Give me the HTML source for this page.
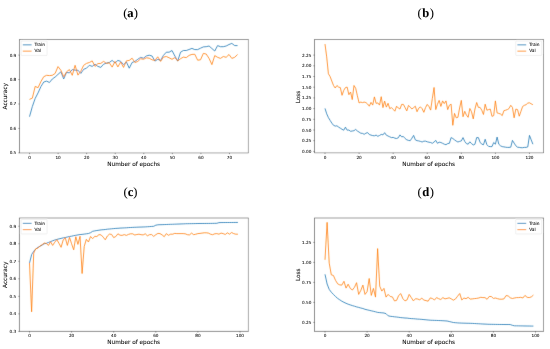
<!DOCTYPE html>
<html lang="en">
<head>
<meta charset="utf-8">
<title>Training curves</title>
<style>
html,body{margin:0;padding:0;background:#fff;}
body{width:550px;height:349px;overflow:hidden;}
svg{display:block;}
svg text{font-family:"DejaVu Sans","Liberation Sans",sans-serif;fill:#111;stroke:#111;stroke-width:0.09px;text-rendering:geometricPrecision;}
svg text.sm{fill:#111;stroke:#111;stroke-width:0.07px;}
svg text.ttl{font-family:"Liberation Serif","DejaVu Serif",serif;fill:#000;stroke-width:0.06px;}
</style>
</head>
<body>
<svg width="550" height="349" viewBox="0 0 550 349">
<defs><filter id="soft" x="0" y="0" width="550" height="349" filterUnits="userSpaceOnUse"><feConvolveMatrix order="3" kernelMatrix="0.0052 0.0619 0.0052 0.0619 0.7314 0.0619 0.0052 0.0619 0.0052" divisor="1" edgeMode="duplicate" preserveAlpha="false"/></filter></defs>
<rect x="0" y="0" width="550" height="349" fill="#fff"/>
<g filter="url(#soft)">
<line x1="19.5" y1="39.30" x2="19.5" y2="153.12" stroke="#000" stroke-width="0.44"/>
<line x1="248.4" y1="39.30" x2="248.4" y2="153.12" stroke="#000" stroke-width="0.34"/>
<line x1="19.5" y1="39.5" x2="248.4" y2="39.5" stroke="#000" stroke-width="0.4"/>
<line x1="19.5" y1="152.95" x2="248.4" y2="152.95" stroke="#000" stroke-width="0.34"/>
<line x1="29.55" y1="152.95" x2="29.55" y2="154.15" stroke="#000" stroke-width="0.4"/>
<line x1="58.11" y1="152.95" x2="58.11" y2="154.15" stroke="#000" stroke-width="0.4"/>
<line x1="86.67" y1="152.95" x2="86.67" y2="154.15" stroke="#000" stroke-width="0.4"/>
<line x1="115.23" y1="152.95" x2="115.23" y2="154.15" stroke="#000" stroke-width="0.4"/>
<line x1="143.79" y1="152.95" x2="143.79" y2="154.15" stroke="#000" stroke-width="0.4"/>
<line x1="172.35" y1="152.95" x2="172.35" y2="154.15" stroke="#000" stroke-width="0.4"/>
<line x1="200.91" y1="152.95" x2="200.91" y2="154.15" stroke="#000" stroke-width="0.4"/>
<line x1="229.47" y1="152.95" x2="229.47" y2="154.15" stroke="#000" stroke-width="0.4"/>
<line x1="18.30" y1="152.85" x2="19.5" y2="152.85" stroke="#000" stroke-width="0.4"/>
<line x1="18.30" y1="128.41" x2="19.5" y2="128.41" stroke="#000" stroke-width="0.4"/>
<line x1="18.30" y1="103.97" x2="19.5" y2="103.97" stroke="#000" stroke-width="0.4"/>
<line x1="18.30" y1="79.53" x2="19.5" y2="79.53" stroke="#000" stroke-width="0.4"/>
<line x1="18.30" y1="55.09" x2="19.5" y2="55.09" stroke="#000" stroke-width="0.4"/>
<polyline points="29.50,116.70 32.35,106.50 35.20,98.40 38.05,92.90 40.90,86.60 43.75,82.00 46.60,81.10 49.45,82.50 52.30,79.00 55.15,77.00 58.00,74.40 60.85,71.80 63.70,78.90 66.55,72.40 69.40,72.90 72.25,69.60 75.10,70.20 77.95,70.20 80.80,73.40 83.65,69.30 86.50,68.20 89.35,65.30 92.20,66.40 95.05,64.20 97.90,66.40 100.75,67.40 103.60,64.20 106.45,63.10 109.30,62.50 112.15,60.40 115.00,63.10 117.85,60.40 120.70,61.40 123.55,64.70 126.40,62.00 129.25,68.20 132.10,62.50 134.95,61.40 137.80,59.30 140.65,57.40 143.50,58.20 146.35,56.00 149.20,55.20 152.05,56.00 154.90,61.10 157.75,59.30 160.60,60.40 163.45,55.40 166.30,52.20 169.15,52.20 172.00,50.50 174.85,56.00 177.70,61.10 180.55,52.20 183.40,50.50 186.25,50.50 189.10,49.50 191.95,48.40 194.80,49.60 197.65,49.60 200.50,48.20 203.35,46.90 206.20,46.70 209.05,46.00 211.90,48.50 214.75,51.00 217.60,45.60 220.45,46.70 223.30,46.70 226.15,46.00 229.00,44.50 231.85,43.40 234.70,45.60 237.55,45.60" fill="none" stroke="#1f77b4" stroke-width="0.8" stroke-linejoin="round" stroke-linecap="butt" opacity="1"/>
<polyline points="29.50,99.40 32.35,98.10 35.20,86.40 38.05,87.70 40.90,81.60 43.75,76.70 46.60,75.30 49.45,75.60 52.30,75.30 55.15,73.40 58.00,66.60 60.85,70.20 63.70,76.70 66.55,71.80 69.40,69.60 72.25,75.30 75.10,65.30 77.95,75.10 80.80,71.30 83.65,65.30 86.50,63.40 89.35,62.50 92.20,60.90 95.05,66.40 97.90,63.60 100.75,63.40 103.60,61.40 106.45,63.40 109.30,62.80 112.15,67.10 115.00,61.40 117.85,66.90 120.70,62.00 123.55,67.40 126.40,60.90 129.25,60.40 132.10,58.20 134.95,62.50 137.80,61.40 140.65,58.70 143.50,59.30 146.35,57.80 149.20,58.20 152.05,59.80 154.90,60.40 157.75,56.80 160.60,61.40 163.45,57.10 166.30,56.50 169.15,57.80 172.00,59.30 174.85,57.60 177.70,60.90 180.55,58.70 183.40,57.10 186.25,57.60 189.10,55.40 191.95,54.40 194.80,54.30 197.65,60.20 200.50,59.80 203.35,53.40 206.20,54.00 209.05,58.40 211.90,64.60 214.75,55.60 217.60,57.30 220.45,58.40 223.30,56.50 226.15,57.30 229.00,54.50 231.85,58.40 234.70,57.30 237.55,54.50" fill="none" stroke="#ff7f0e" stroke-width="0.8" stroke-linejoin="round" stroke-linecap="butt" opacity="1"/>
<rect x="21.1" y="41.05" width="26" height="14.4" rx="0.6" fill="#fff" fill-opacity="0.8" stroke="#ccc" stroke-width="0.3"/>
<line x1="22.80" y1="44.85" x2="31.60" y2="44.85" stroke="#1f77b4" stroke-width="0.8"/>
<line x1="22.80" y1="51.15" x2="31.60" y2="51.15" stroke="#ff7f0e" stroke-width="0.8"/>
<line x1="314.5" y1="39.30" x2="314.5" y2="152.97" stroke="#000" stroke-width="0.44"/>
<line x1="543.5" y1="39.30" x2="543.5" y2="152.97" stroke="#000" stroke-width="0.38"/>
<line x1="314.5" y1="39.5" x2="543.5" y2="39.5" stroke="#000" stroke-width="0.4"/>
<line x1="314.5" y1="152.8" x2="543.5" y2="152.8" stroke="#000" stroke-width="0.34"/>
<line x1="325.00" y1="152.8" x2="325.00" y2="154.00" stroke="#000" stroke-width="0.4"/>
<line x1="359.08" y1="152.8" x2="359.08" y2="154.00" stroke="#000" stroke-width="0.4"/>
<line x1="393.16" y1="152.8" x2="393.16" y2="154.00" stroke="#000" stroke-width="0.4"/>
<line x1="427.24" y1="152.8" x2="427.24" y2="154.00" stroke="#000" stroke-width="0.4"/>
<line x1="461.32" y1="152.8" x2="461.32" y2="154.00" stroke="#000" stroke-width="0.4"/>
<line x1="495.40" y1="152.8" x2="495.40" y2="154.00" stroke="#000" stroke-width="0.4"/>
<line x1="529.48" y1="152.8" x2="529.48" y2="154.00" stroke="#000" stroke-width="0.4"/>
<line x1="313.30" y1="151.40" x2="314.5" y2="151.40" stroke="#000" stroke-width="0.4"/>
<line x1="313.30" y1="140.70" x2="314.5" y2="140.70" stroke="#000" stroke-width="0.4"/>
<line x1="313.30" y1="130.00" x2="314.5" y2="130.00" stroke="#000" stroke-width="0.4"/>
<line x1="313.30" y1="119.30" x2="314.5" y2="119.30" stroke="#000" stroke-width="0.4"/>
<line x1="313.30" y1="108.60" x2="314.5" y2="108.60" stroke="#000" stroke-width="0.4"/>
<line x1="313.30" y1="97.90" x2="314.5" y2="97.90" stroke="#000" stroke-width="0.4"/>
<line x1="313.30" y1="87.20" x2="314.5" y2="87.20" stroke="#000" stroke-width="0.4"/>
<line x1="313.30" y1="76.50" x2="314.5" y2="76.50" stroke="#000" stroke-width="0.4"/>
<line x1="313.30" y1="65.80" x2="314.5" y2="65.80" stroke="#000" stroke-width="0.4"/>
<line x1="313.30" y1="55.10" x2="314.5" y2="55.10" stroke="#000" stroke-width="0.4"/>
<polyline points="325.00,108.40 326.70,113.80 328.41,117.60 330.11,120.40 331.82,123.10 333.52,125.30 335.22,126.10 336.93,125.80 338.63,127.10 340.34,128.20 342.04,129.30 343.74,130.20 345.45,127.20 347.15,130.20 348.86,130.00 350.56,131.30 352.26,131.00 353.97,130.70 355.67,129.40 357.38,131.00 359.08,132.10 360.78,133.20 362.49,133.40 364.19,134.30 365.90,133.20 367.60,132.60 369.30,134.50 371.01,135.10 372.71,135.60 374.42,135.80 376.12,135.10 377.82,136.30 379.53,135.50 381.23,134.40 382.94,134.90 384.64,132.70 386.34,135.20 388.05,136.00 389.75,136.80 391.46,137.60 393.16,137.40 394.86,138.20 396.57,138.50 398.27,137.80 399.98,134.90 401.68,136.80 403.38,136.50 405.09,138.50 406.79,139.80 408.50,140.40 410.20,140.70 411.90,138.20 413.61,135.40 415.31,139.80 417.02,140.70 418.72,140.90 420.42,141.40 422.13,142.00 423.83,141.20 425.54,141.10 427.24,141.80 428.94,142.20 430.65,142.50 432.35,143.30 434.06,142.00 435.76,140.40 437.46,143.30 439.17,142.20 440.87,142.50 442.58,143.30 444.28,144.20 445.98,144.70 447.69,143.60 449.39,143.30 451.10,137.60 452.80,138.50 454.50,139.80 456.21,141.10 457.91,142.00 459.62,141.40 461.32,140.90 463.02,137.60 464.73,141.40 466.43,143.60 468.14,144.20 469.84,141.80 471.54,143.60 473.25,145.00 474.95,144.20 476.66,137.60 478.36,137.60 480.06,142.20 481.77,144.20 483.47,144.70 485.18,139.30 486.88,144.70 488.58,146.40 490.29,146.60 491.99,146.60 493.70,142.50 495.40,144.20 497.10,137.10 498.81,144.20 500.51,145.80 502.22,146.60 503.92,146.90 505.62,147.20 507.33,147.40 509.03,147.40 510.74,147.20 512.44,140.40 514.14,143.10 515.85,145.80 517.55,147.20 519.26,147.40 520.96,147.70 522.66,147.70 524.37,147.40 526.07,147.40 527.78,146.90 529.48,135.40 531.18,139.80 532.89,144.20" fill="none" stroke="#1f77b4" stroke-width="0.8" stroke-linejoin="round" stroke-linecap="butt" opacity="1"/>
<polyline points="325.00,44.10 326.70,56.90 328.41,73.80 330.11,76.60 331.82,81.10 333.52,85.50 335.22,88.00 336.93,85.50 338.63,87.10 340.34,87.60 342.04,95.30 343.74,90.40 345.45,87.60 347.15,87.10 348.86,94.70 350.56,92.00 352.26,99.60 353.97,85.50 355.67,88.20 357.38,95.80 359.08,102.90 360.78,102.10 362.49,102.60 364.19,102.10 365.90,102.60 367.60,104.00 369.30,106.20 371.01,102.40 372.71,105.10 374.42,96.90 376.12,103.40 377.82,102.90 379.53,105.10 381.23,96.70 382.94,107.60 384.64,101.10 386.34,107.10 388.05,103.30 389.75,108.70 391.46,107.60 393.16,109.30 394.86,111.20 396.57,106.20 398.27,108.00 399.98,109.00 401.68,104.40 403.38,104.40 405.09,107.60 406.79,110.90 408.50,105.40 410.20,107.10 411.90,109.00 413.61,107.60 415.31,106.20 417.02,111.70 418.72,108.20 420.42,106.90 422.13,108.70 423.83,112.30 425.54,107.60 427.24,104.40 428.94,106.50 430.65,110.10 432.35,98.40 434.06,87.50 435.76,109.60 437.46,104.20 439.17,100.40 440.87,106.40 442.58,100.90 444.28,103.60 445.98,100.90 447.69,109.60 449.39,105.30 451.10,104.20 452.80,125.30 454.50,113.40 456.21,117.80 457.91,117.30 459.62,108.00 461.32,100.40 463.02,116.70 464.73,111.30 466.43,115.10 468.14,117.30 469.84,108.50 471.54,111.80 473.25,118.90 474.95,109.10 476.66,102.50 478.36,107.40 480.06,107.40 481.77,110.20 483.47,114.50 485.18,104.20 486.88,110.20 488.58,109.60 490.29,109.10 491.99,116.40 493.70,115.60 495.40,100.90 497.10,112.90 498.81,113.40 500.51,114.00 502.22,115.60 503.92,110.70 505.62,110.20 507.33,109.60 509.03,108.50 510.74,105.30 512.44,107.40 514.14,117.80 515.85,109.10 517.55,109.60 519.26,116.20 520.96,111.30 522.66,106.40 524.37,105.30 526.07,104.70 527.78,103.10 529.48,102.80 531.18,103.80 532.89,104.70" fill="none" stroke="#ff7f0e" stroke-width="0.8" stroke-linejoin="round" stroke-linecap="butt" opacity="1"/>
<rect x="515.7" y="41.05" width="26" height="14.4" rx="0.6" fill="#fff" fill-opacity="0.8" stroke="#ccc" stroke-width="0.3"/>
<line x1="517.40" y1="44.85" x2="526.20" y2="44.85" stroke="#1f77b4" stroke-width="0.8"/>
<line x1="517.40" y1="51.15" x2="526.20" y2="51.15" stroke="#ff7f0e" stroke-width="0.8"/>
<line x1="19.45" y1="217.81" x2="19.45" y2="331.62" stroke="#000" stroke-width="0.44"/>
<line x1="248.4" y1="217.81" x2="248.4" y2="331.62" stroke="#000" stroke-width="0.34"/>
<line x1="19.45" y1="218.0" x2="248.4" y2="218.0" stroke="#000" stroke-width="0.38"/>
<line x1="19.45" y1="331.4" x2="248.4" y2="331.4" stroke="#000" stroke-width="0.44"/>
<line x1="29.50" y1="331.4" x2="29.50" y2="332.60" stroke="#000" stroke-width="0.4"/>
<line x1="71.60" y1="331.4" x2="71.60" y2="332.60" stroke="#000" stroke-width="0.4"/>
<line x1="113.70" y1="331.4" x2="113.70" y2="332.60" stroke="#000" stroke-width="0.4"/>
<line x1="155.80" y1="331.4" x2="155.80" y2="332.60" stroke="#000" stroke-width="0.4"/>
<line x1="197.90" y1="331.4" x2="197.90" y2="332.60" stroke="#000" stroke-width="0.4"/>
<line x1="240.00" y1="331.4" x2="240.00" y2="332.60" stroke="#000" stroke-width="0.4"/>
<line x1="18.25" y1="331.40" x2="19.45" y2="331.40" stroke="#000" stroke-width="0.4"/>
<line x1="18.25" y1="313.87" x2="19.45" y2="313.87" stroke="#000" stroke-width="0.4"/>
<line x1="18.25" y1="296.34" x2="19.45" y2="296.34" stroke="#000" stroke-width="0.4"/>
<line x1="18.25" y1="278.81" x2="19.45" y2="278.81" stroke="#000" stroke-width="0.4"/>
<line x1="18.25" y1="261.28" x2="19.45" y2="261.28" stroke="#000" stroke-width="0.4"/>
<line x1="18.25" y1="243.75" x2="19.45" y2="243.75" stroke="#000" stroke-width="0.4"/>
<line x1="18.25" y1="226.22" x2="19.45" y2="226.22" stroke="#000" stroke-width="0.4"/>
<polyline points="29.50,263.10 31.61,254.70 33.71,251.20 35.81,249.00 37.92,247.30 40.02,246.20 42.13,245.10 44.23,243.80 46.34,243.30 48.45,242.50 50.55,241.60 52.66,240.80 54.76,240.00 56.86,239.40 58.97,238.90 61.08,238.40 63.18,237.90 65.28,237.50 67.39,237.00 69.50,236.50 71.60,236.20 73.70,235.70 75.81,235.30 77.91,234.90 80.02,234.60 82.12,234.40 84.23,234.10 86.34,233.80 88.44,233.50 90.55,232.70 92.65,231.30 94.75,230.90 96.86,230.50 98.97,230.20 101.07,229.90 103.17,229.70 105.28,229.50 107.39,229.20 109.49,229.00 111.59,228.80 113.70,228.60 115.80,228.40 117.91,228.30 120.02,228.10 122.12,228.00 124.22,227.90 126.33,227.80 128.44,227.60 130.54,227.50 132.64,227.40 134.75,227.30 136.86,227.20 138.96,227.12 141.06,227.05 143.17,226.98 145.28,226.90 147.38,226.75 149.49,226.60 151.59,226.45 153.69,226.30 155.80,225.20 157.91,224.80 160.01,224.73 162.12,224.65 164.22,224.57 166.32,224.50 168.43,224.42 170.53,224.34 172.64,224.26 174.75,224.18 176.85,224.10 178.96,224.02 181.06,223.94 183.16,223.86 185.27,223.78 187.38,223.70 189.48,223.67 191.59,223.63 193.69,223.60 195.79,223.55 197.90,223.50 200.00,223.49 202.11,223.48 204.22,223.47 206.32,223.46 208.43,223.45 210.53,223.41 212.63,223.38 214.74,223.34 216.84,223.30 218.95,222.65 221.06,222.55 223.16,222.54 225.26,222.53 227.37,222.51 229.47,222.50 231.58,222.49 233.69,222.47 235.79,222.46 237.90,222.45" fill="none" stroke="#1f77b4" stroke-width="0.8" stroke-linejoin="round" stroke-linecap="butt" opacity="1"/>
<polyline points="29.50,263.00 31.61,311.80 33.71,253.10 35.81,248.70 37.92,248.20 40.02,246.00 42.13,244.70 44.23,243.00 46.34,243.50 48.45,245.40 50.55,241.80 52.66,245.40 54.76,242.20 56.86,239.70 58.97,243.30 61.08,247.30 63.18,240.00 65.28,237.80 67.39,245.40 69.50,237.30 71.60,243.80 73.70,249.80 75.81,236.70 77.91,244.40 80.02,236.30 82.12,273.50 84.23,246.40 86.34,239.30 88.44,242.00 90.55,236.50 92.65,238.70 94.75,236.30 96.86,236.50 98.97,234.60 101.07,234.90 103.17,237.10 105.28,239.80 107.39,236.00 109.49,234.10 111.59,234.40 113.70,237.60 115.80,236.50 117.91,233.80 120.02,235.20 122.12,235.40 124.22,234.60 126.33,235.40 128.44,234.40 130.54,233.80 132.64,233.80 134.75,235.00 136.86,234.50 138.96,234.20 141.06,234.70 143.17,234.90 145.28,233.80 147.38,235.80 149.49,234.70 151.59,234.50 153.69,236.40 155.80,234.70 157.91,233.40 160.01,233.60 162.12,234.90 164.22,236.70 166.32,233.60 168.43,235.30 170.53,234.20 172.64,234.20 174.75,233.40 176.85,233.60 178.96,233.60 181.06,233.60 183.16,233.60 185.27,233.80 187.38,234.70 189.48,234.90 191.59,233.10 193.69,234.70 195.79,234.20 197.90,233.60 200.00,233.40 202.11,233.10 204.22,232.80 206.32,232.80 208.43,233.10 210.53,234.20 212.63,234.70 214.74,233.80 216.84,233.60 218.95,234.20 221.06,233.10 223.16,233.60 225.26,234.50 227.37,232.80 229.47,234.20 231.58,232.50 233.69,233.60 235.79,234.20 237.90,234.20" fill="none" stroke="#ff7f0e" stroke-width="0.8" stroke-linejoin="round" stroke-linecap="butt" opacity="1"/>
<rect x="21.1" y="219.55" width="26" height="14.4" rx="0.6" fill="#fff" fill-opacity="0.8" stroke="#ccc" stroke-width="0.3"/>
<line x1="22.80" y1="223.35" x2="31.60" y2="223.35" stroke="#1f77b4" stroke-width="0.8"/>
<line x1="22.80" y1="229.65" x2="31.60" y2="229.65" stroke="#ff7f0e" stroke-width="0.8"/>
<line x1="314.5" y1="217.81" x2="314.5" y2="331.62" stroke="#000" stroke-width="0.44"/>
<line x1="543.5" y1="217.81" x2="543.5" y2="331.62" stroke="#000" stroke-width="0.38"/>
<line x1="314.5" y1="218.0" x2="543.5" y2="218.0" stroke="#000" stroke-width="0.38"/>
<line x1="314.5" y1="331.4" x2="543.5" y2="331.4" stroke="#000" stroke-width="0.44"/>
<line x1="325.00" y1="331.4" x2="325.00" y2="332.60" stroke="#000" stroke-width="0.4"/>
<line x1="367.10" y1="331.4" x2="367.10" y2="332.60" stroke="#000" stroke-width="0.4"/>
<line x1="409.20" y1="331.4" x2="409.20" y2="332.60" stroke="#000" stroke-width="0.4"/>
<line x1="451.30" y1="331.4" x2="451.30" y2="332.60" stroke="#000" stroke-width="0.4"/>
<line x1="493.40" y1="331.4" x2="493.40" y2="332.60" stroke="#000" stroke-width="0.4"/>
<line x1="535.50" y1="331.4" x2="535.50" y2="332.60" stroke="#000" stroke-width="0.4"/>
<line x1="313.30" y1="322.40" x2="314.5" y2="322.40" stroke="#000" stroke-width="0.4"/>
<line x1="313.30" y1="302.40" x2="314.5" y2="302.40" stroke="#000" stroke-width="0.4"/>
<line x1="313.30" y1="282.40" x2="314.5" y2="282.40" stroke="#000" stroke-width="0.4"/>
<line x1="313.30" y1="262.40" x2="314.5" y2="262.40" stroke="#000" stroke-width="0.4"/>
<line x1="313.30" y1="242.40" x2="314.5" y2="242.40" stroke="#000" stroke-width="0.4"/>
<polyline points="325.00,274.30 327.11,284.00 329.21,289.40 331.31,292.20 333.42,294.40 335.52,296.50 337.63,298.40 339.74,299.80 341.84,301.20 343.94,302.30 346.05,303.30 348.15,304.20 350.26,304.90 352.37,305.60 354.47,306.20 356.57,306.90 358.68,307.40 360.78,308.00 362.89,308.50 365.00,309.30 367.10,309.80 369.20,310.30 371.31,310.80 373.42,311.30 375.52,311.80 377.62,312.40 379.73,312.60 381.83,312.80 383.94,313.00 386.05,313.70 388.15,315.80 390.25,316.30 392.36,316.50 394.47,316.80 396.57,317.00 398.68,317.30 400.78,317.60 402.88,317.80 404.99,318.00 407.10,318.10 409.20,318.40 411.31,318.60 413.41,318.70 415.51,318.90 417.62,319.10 419.73,319.20 421.83,319.40 423.94,319.60 426.04,319.80 428.14,320.00 430.25,320.20 432.36,320.30 434.46,320.38 436.56,320.45 438.67,320.53 440.77,320.60 442.88,320.73 444.99,320.87 447.09,321.00 449.19,321.50 451.30,322.00 453.40,322.50 455.51,322.70 457.62,322.90 459.72,323.00 461.82,323.10 463.93,323.16 466.03,323.22 468.14,323.28 470.25,323.34 472.35,323.40 474.46,323.52 476.56,323.64 478.66,323.76 480.77,323.88 482.88,324.00 484.98,324.10 487.09,324.20 489.19,324.30 491.29,324.34 493.40,324.38 495.50,324.41 497.61,324.45 499.72,324.47 501.82,324.48 503.93,324.50 506.03,324.52 508.13,324.53 510.24,324.55 512.35,325.30 514.45,325.80 516.56,325.83 518.66,325.87 520.76,325.90 522.87,325.93 524.98,325.97 527.08,326.00 529.18,326.03 531.29,326.07 533.39,326.10" fill="none" stroke="#1f77b4" stroke-width="0.8" stroke-linejoin="round" stroke-linecap="butt" opacity="1"/>
<polyline points="325.00,259.80 327.11,222.40 329.21,263.10 331.31,274.80 333.42,275.50 335.52,280.30 337.63,283.80 339.74,284.90 341.84,285.10 343.94,281.30 346.05,288.10 348.15,284.20 350.26,288.40 352.37,290.00 354.47,287.30 356.57,282.70 358.68,294.40 360.78,290.50 362.89,285.10 365.00,294.40 367.10,291.60 369.20,278.50 371.31,295.40 373.42,288.40 375.52,297.10 377.62,248.60 379.73,286.20 381.83,291.10 383.94,288.40 386.05,297.10 388.15,294.40 390.25,296.50 392.36,296.90 394.47,300.90 396.57,300.40 398.68,295.50 400.78,293.60 402.88,298.70 404.99,300.90 407.10,299.80 409.20,294.40 411.31,297.60 413.41,300.90 415.51,298.70 417.62,299.00 419.73,299.80 421.83,298.20 423.94,300.10 426.04,300.60 428.14,301.20 430.25,297.90 432.36,298.50 434.46,300.00 436.56,297.60 438.67,298.70 440.77,299.50 442.88,297.60 444.99,298.90 447.09,298.40 449.19,297.80 451.30,298.90 453.40,300.20 455.51,298.90 457.62,296.20 459.72,293.50 461.82,300.00 463.93,298.00 466.03,298.70 468.14,297.30 470.25,299.10 472.35,298.90 474.46,298.60 476.56,298.40 478.66,298.00 480.77,297.30 482.88,297.60 484.98,297.60 487.09,299.30 489.19,296.50 491.29,296.50 493.40,298.40 495.50,298.00 497.61,298.70 499.72,299.20 501.82,299.20 503.93,298.90 506.03,295.60 508.13,295.90 510.24,297.80 512.35,298.50 514.45,298.00 516.56,297.60 518.66,297.60 520.76,297.30 522.87,298.00 524.98,295.40 527.08,297.30 529.18,297.60 531.29,296.90 533.39,295.10" fill="none" stroke="#ff7f0e" stroke-width="0.8" stroke-linejoin="round" stroke-linecap="butt" opacity="1"/>
<rect x="515.7" y="219.55" width="26" height="14.4" rx="0.6" fill="#fff" fill-opacity="0.8" stroke="#ccc" stroke-width="0.3"/>
<line x1="517.40" y1="223.35" x2="526.20" y2="223.35" stroke="#1f77b4" stroke-width="0.8"/>
<line x1="517.40" y1="229.65" x2="526.20" y2="229.65" stroke="#ff7f0e" stroke-width="0.8"/>
</g>
<g>
<text x="29.55" y="158.95" class="sm" font-size="4.2" text-anchor="middle">0</text>
<text x="58.11" y="158.95" class="sm" font-size="4.2" text-anchor="middle">10</text>
<text x="86.67" y="158.95" class="sm" font-size="4.2" text-anchor="middle">20</text>
<text x="115.23" y="158.95" class="sm" font-size="4.2" text-anchor="middle">30</text>
<text x="143.79" y="158.95" class="sm" font-size="4.2" text-anchor="middle">40</text>
<text x="172.35" y="158.95" class="sm" font-size="4.2" text-anchor="middle">50</text>
<text x="200.91" y="158.95" class="sm" font-size="4.2" text-anchor="middle">60</text>
<text x="229.47" y="158.95" class="sm" font-size="4.2" text-anchor="middle">70</text>
<text x="16.30" y="154.35" class="sm" font-size="4.2" text-anchor="end">0.5</text>
<text x="16.30" y="129.91" class="sm" font-size="4.2" text-anchor="end">0.6</text>
<text x="16.30" y="105.47" class="sm" font-size="4.2" text-anchor="end">0.7</text>
<text x="16.30" y="81.03" class="sm" font-size="4.2" text-anchor="end">0.8</text>
<text x="16.30" y="56.59" class="sm" font-size="4.2" text-anchor="end">0.9</text>
<text x="133.7" y="165.5" font-size="5.75" text-anchor="middle">Number of epochs</text>
<text transform="translate(6.7,96.3) rotate(-90)" font-size="5.75" text-anchor="middle">Accuracy</text>
<text x="34.60" y="46.25" class="sm" font-size="4.3">Train</text>
<text x="34.60" y="52.35" class="sm" font-size="4.3">Val</text>
<text x="130.5" y="17.4" class="ttl" font-size="12.6" text-anchor="middle">(<tspan font-weight="bold">a</tspan>)</text>
<text x="325.00" y="158.80" class="sm" font-size="4.2" text-anchor="middle">0</text>
<text x="359.08" y="158.80" class="sm" font-size="4.2" text-anchor="middle">20</text>
<text x="393.16" y="158.80" class="sm" font-size="4.2" text-anchor="middle">40</text>
<text x="427.24" y="158.80" class="sm" font-size="4.2" text-anchor="middle">60</text>
<text x="461.32" y="158.80" class="sm" font-size="4.2" text-anchor="middle">80</text>
<text x="495.40" y="158.80" class="sm" font-size="4.2" text-anchor="middle">100</text>
<text x="529.48" y="158.80" class="sm" font-size="4.2" text-anchor="middle">120</text>
<text x="311.30" y="152.90" class="sm" font-size="4.2" text-anchor="end">0.00</text>
<text x="311.30" y="142.20" class="sm" font-size="4.2" text-anchor="end">0.25</text>
<text x="311.30" y="131.50" class="sm" font-size="4.2" text-anchor="end">0.50</text>
<text x="311.30" y="120.80" class="sm" font-size="4.2" text-anchor="end">0.75</text>
<text x="311.30" y="110.10" class="sm" font-size="4.2" text-anchor="end">1.00</text>
<text x="311.30" y="99.40" class="sm" font-size="4.2" text-anchor="end">1.25</text>
<text x="311.30" y="88.70" class="sm" font-size="4.2" text-anchor="end">1.50</text>
<text x="311.30" y="78.00" class="sm" font-size="4.2" text-anchor="end">1.75</text>
<text x="311.30" y="67.30" class="sm" font-size="4.2" text-anchor="end">2.00</text>
<text x="311.30" y="56.60" class="sm" font-size="4.2" text-anchor="end">2.25</text>
<text x="428.7" y="165.5" font-size="5.75" text-anchor="middle">Number of epochs</text>
<text transform="translate(300.0,97.0) rotate(-90)" font-size="5.75" text-anchor="middle">Loss</text>
<text x="529.20" y="46.25" class="sm" font-size="4.3">Train</text>
<text x="529.20" y="52.35" class="sm" font-size="4.3">Val</text>
<text x="425.9" y="17.4" class="ttl" font-size="12.6" text-anchor="middle" letter-spacing="0.45">(<tspan font-weight="bold">b</tspan>)</text>
<text x="29.50" y="337.40" class="sm" font-size="4.2" text-anchor="middle">0</text>
<text x="71.60" y="337.40" class="sm" font-size="4.2" text-anchor="middle">20</text>
<text x="113.70" y="337.40" class="sm" font-size="4.2" text-anchor="middle">40</text>
<text x="155.80" y="337.40" class="sm" font-size="4.2" text-anchor="middle">60</text>
<text x="197.90" y="337.40" class="sm" font-size="4.2" text-anchor="middle">80</text>
<text x="240.00" y="337.40" class="sm" font-size="4.2" text-anchor="middle">100</text>
<text x="16.25" y="332.90" class="sm" font-size="4.2" text-anchor="end">0.3</text>
<text x="16.25" y="315.37" class="sm" font-size="4.2" text-anchor="end">0.4</text>
<text x="16.25" y="297.84" class="sm" font-size="4.2" text-anchor="end">0.5</text>
<text x="16.25" y="280.31" class="sm" font-size="4.2" text-anchor="end">0.6</text>
<text x="16.25" y="262.78" class="sm" font-size="4.2" text-anchor="end">0.7</text>
<text x="16.25" y="245.25" class="sm" font-size="4.2" text-anchor="end">0.8</text>
<text x="16.25" y="227.72" class="sm" font-size="4.2" text-anchor="end">0.9</text>
<text x="133.7" y="344.05" font-size="5.75" text-anchor="middle">Number of epochs</text>
<text transform="translate(6.7,274.8) rotate(-90)" font-size="5.75" text-anchor="middle">Accuracy</text>
<text x="34.60" y="224.75" class="sm" font-size="4.3">Train</text>
<text x="34.60" y="230.85" class="sm" font-size="4.3">Val</text>
<text x="130.5" y="195.6" class="ttl" font-size="12.6" text-anchor="middle">(<tspan font-weight="bold">c</tspan>)</text>
<text x="325.00" y="337.40" class="sm" font-size="4.2" text-anchor="middle">0</text>
<text x="367.10" y="337.40" class="sm" font-size="4.2" text-anchor="middle">20</text>
<text x="409.20" y="337.40" class="sm" font-size="4.2" text-anchor="middle">40</text>
<text x="451.30" y="337.40" class="sm" font-size="4.2" text-anchor="middle">60</text>
<text x="493.40" y="337.40" class="sm" font-size="4.2" text-anchor="middle">80</text>
<text x="535.50" y="337.40" class="sm" font-size="4.2" text-anchor="middle">100</text>
<text x="311.30" y="323.90" class="sm" font-size="4.2" text-anchor="end">0.25</text>
<text x="311.30" y="303.90" class="sm" font-size="4.2" text-anchor="end">0.50</text>
<text x="311.30" y="283.90" class="sm" font-size="4.2" text-anchor="end">0.75</text>
<text x="311.30" y="263.90" class="sm" font-size="4.2" text-anchor="end">1.00</text>
<text x="311.30" y="243.90" class="sm" font-size="4.2" text-anchor="end">1.25</text>
<text x="428.7" y="344.05" font-size="5.75" text-anchor="middle">Number of epochs</text>
<text transform="translate(300.0,274.8) rotate(-90)" font-size="5.75" text-anchor="middle">Loss</text>
<text x="529.20" y="224.75" class="sm" font-size="4.3">Train</text>
<text x="529.20" y="230.85" class="sm" font-size="4.3">Val</text>
<text x="426.0" y="195.6" class="ttl" font-size="12.6" text-anchor="middle" letter-spacing="0.45">(<tspan font-weight="bold">d</tspan>)</text>
</g>
</svg>
</body>
</html>
